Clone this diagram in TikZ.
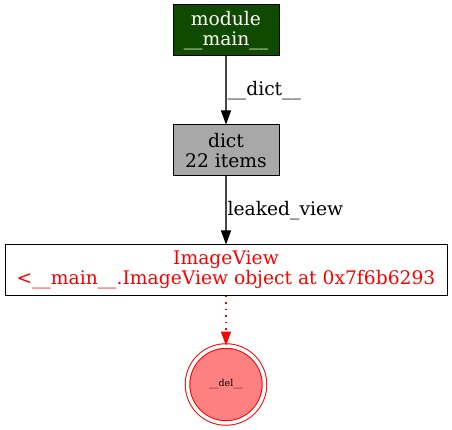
\documentclass[tikz,border=0pt]{standalone}
\usepackage{fontspec}
\setmainfont{DejaVu Serif}
\usetikzlibrary{arrows.meta, positioning}
\definecolor{modgreen}{RGB}{16,74,0}
\definecolor{dictgray}{RGB}{168,168,168}
\definecolor{delred}{RGB}{255,128,128}
\definecolor{edgegray}{RGB}{70,70,70}

\begin{document}
\begin{tikzpicture}[
    x=1pt, y=1pt,
    node distance=68pt,
    box/.style={rectangle, draw, line width=1pt, minimum width=106pt, minimum height=51pt,
                align=center, inner sep=2pt, font=\fontsize{18.7}{20}\selectfont},
    modbox/.style={box, fill=modgreen, text=white},
    dictbox/.style={box, fill=dictgray},
    objbox/.style={box, minimum width=442pt, minimum height=50pt, text=red},
    delnode/.style={circle, draw=red, double=white, double distance=3.5pt, line width=1pt,
                    fill=delred, minimum size=77pt, inner sep=0pt, font=\fontsize{9.5}{10}\selectfont},
    arr/.style={-{Triangle[length=14pt, width=10pt, black]}, line width=1.2pt, edgegray},
    lbl/.style={right, inner sep=1pt, black, font=\fontsize{18.7}{20}\selectfont}
]
\useasboundingbox (0,0) rectangle (452,-430);

\node[modbox] (main) at (226,-30.5) {module\\\_\_main\_\_};
\node[dictbox, below=of main] (dict) {dict\\22 items};
\node[objbox, below=of dict] (view) {ImageView\\<\_\_main\_\_.ImageView object at 0x7f6b6293};
\node[delnode, below=50pt of view] (del) {\_\_del\_\_};

\draw[arr] (main) -- node[lbl] {\_\_dict\_\_} (dict);
\draw[arr] (dict) -- node[lbl] {leaked\_view} (view);
\draw[arr, red, dash pattern=on 1.5pt off 5pt,
      -{Triangle[length=14pt, width=10pt, red]}] (view) -- (del);
\end{tikzpicture}
\end{document}
